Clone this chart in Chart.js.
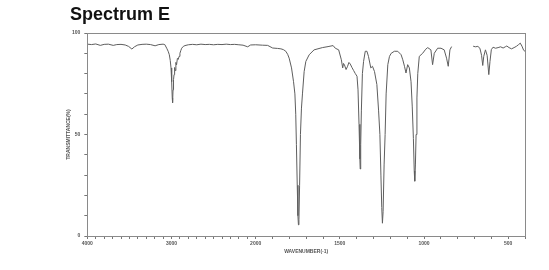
<!DOCTYPE html>
<html>
<head>
<meta charset="utf-8">
<script src="https://cdn.jsdelivr.net/npm/chart.js@4.4.1/dist/chart.umd.min.js"></script>
<style>
  body { margin: 0; background: #fff; }
  #wrap { position: relative; width: 549px; height: 270px; }
  #irChart { position: absolute; left: 0; top: 0; }
  #title { position: absolute; left: 70px; top: 5px; font: bold 18px/18px "Liberation Sans", Arial, sans-serif; color: #111; }
</style>
</head>
<body>
<div id="wrap">
  <canvas id="irChart" width="549" height="270"></canvas>
  <div id="title">Spectrum E</div>
</div>
<script>
/* IR spectrum. x scale changes at 2000 cm-1 (like the SDBS plots) */

const wavenumbers = [
  4000, 3950, 3900, 3846, 3800, 3750, 3692, 3650, 3600, 3550, 3510, 3471, 3440, 3400,
  3350, 3300, 3250, 3195, 3150, 3100, 3080, 3057, 3040, 3026, 3015, 3006, 2998, 2991,
  2987, 2982, 2976, 2970, 2963, 2956, 2948, 2940, 2930, 2920, 2910, 2900, 2890, 2879,
  2860, 2840, 2800, 2750, 2700, 2650, 2600, 2550, 2500, 2450, 2400, 2350, 2300, 2250,
  2200, 2150, 2095, 2060, 2000, 1960, 1929, 1899, 1870, 1850, 1835, 1821, 1810, 1801,
  1787, 1775, 1767, 1762, 1758, 1753, 1749, 1746, 1743, 1739, 1734, 1728, 1722, 1712,
  1702, 1682, 1653, 1604, 1570, 1540, 1527, 1507, 1491, 1483, 1478, 1473, 1463, 1454,
  1446, 1438, 1428, 1418, 1408, 1398, 1392, 1386, 1381, 1379, 1376, 1372, 1366, 1359,
  1349, 1339, 1330, 1316, 1306, 1294, 1280, 1270, 1262, 1256, 1251, 1247, 1243, 1237,
  1231, 1225, 1215, 1205, 1195, 1176, 1156, 1136, 1126, 1116, 1107, 1097, 1087, 1077,
  1070, 1063, 1058, 1055, 1051, 1047, 1042, 1037, 1028, 1008, 990, 978, 959, 949,
  939, 919, 899, 880, 866, 856, 846, 836, 770, 708, 695, 680, 668, 658,
  651, 645, 635, 625, 615, 608, 600, 590, 575, 560, 545, 530, 515, 508,
  495, 480, 465, 450, 438, 428, 418, 408, 400
];

const transmittance = [
  94.5, 94.3, 94.6, 93.9, 94.4, 94.5, 93.9, 94.3, 94.4, 94.1, 93.4, 92.1, 93.2, 94.1,
  94.4, 94.5, 94.3, 93.7, 94.3, 94.5, 94.3, 92.5, 91.0, 89.3, 86.5, 82.8, 76, 68,
  65.7, 72, 77, 79.5, 83, 81.5, 85.5, 84.3, 87.5, 87, 88.5, 90, 91.3, 92.5,
  93.4, 93.8, 94.2, 94.4, 94.2, 94.5, 94.3, 94.4, 94.2, 94.4, 94.3, 94.5, 94.3, 94.4,
  94.2, 94.0, 93.2, 94.1, 94.2, 94.0, 93.9, 92.6, 92.4, 92.2, 91.8, 91.0, 89.5, 87.6,
  82.8, 76, 70, 60, 45, 25, 10, 5.5, 8, 25, 50, 63, 70, 81,
  86, 89.3, 91.7, 92.8, 93.3, 93.8, 92.5, 91.7, 86.8, 82.8, 85, 84.4, 82, 83.6,
  85.5, 84.7, 83, 81.5, 80, 78.7, 72, 55, 38, 33, 45, 62, 80, 86,
  91, 91, 88.5, 82.8, 83.6, 81, 74.6, 62, 50, 30, 14, 6.3, 12, 35,
  50, 70, 84.4, 88.5, 90, 91, 91, 89.3, 86.8, 83.6, 80.3, 84.4, 82.8, 76,
  64, 48, 32, 27, 35, 50, 68, 80, 88.5, 90, 92, 92.8, 91.7, 84.4,
  90, 92.5, 92.5, 91.7, 87.6, 83.6, 91.7, 93.3, null, 93.5, 93.2, 93.4, 92.5, 89,
  84, 88.5, 91.7, 89, 79.5, 86, 91.8, 93, 92.5, 92.8, 93.2, 92.6, 93.3, 93.6,
  92.8, 92.2, 92.8, 93.5, 94.3, 95, 93.5, 91.5, 91
];

const xTickLabels = [4000, 3000, 2000, 1500, 1000, 500];
const yTickLabels = [0, 50, 100];

// 4000-2000 at one step, 2000-400 at double scale
function axisPos(wn) {
  return wn >= 2000 ? (4000 - wn) / 1000 : 2 + (2000 - wn) / 500;
}
function axisWn(p) {
  return p <= 2 ? 4000 - p * 1000 : 2000 - (p - 2) * 500;
}

const frame = {
  id: 'frame',
  afterDraw(chart) {
    const a = chart.chartArea;
    const ctx = chart.ctx;
    ctx.save();
    ctx.strokeStyle = '#8a8a8a';
    ctx.lineWidth = 1;
    ctx.strokeRect(Math.round(a.left) + 0.5, Math.round(a.top) + 0.5,
                   Math.round(a.right - a.left), Math.round(a.bottom - a.top));
    ctx.restore();
  }
};

Chart.defaults.font.family = '"Liberation Sans", Arial, sans-serif';

new Chart(document.getElementById('irChart'), {
  type: 'line',
  data: {
    datasets: [{
      data: wavenumbers.map((wn, i) => ({ x: axisPos(wn), y: transmittance[i] })),
      borderColor: '#5e5e5e',
      borderWidth: 1,
      pointRadius: 0,
      tension: 0,
      spanGaps: false,
      fill: false
    }]
  },
  options: {
    responsive: false,
    animation: false,
    layout: { padding: { left: 66, right: 24, top: 33, bottom: 15 } },
    plugins: { legend: { display: false }, tooltip: { enabled: false } },
    scales: {
      x: {
        type: 'linear',
        min: 0,
        max: axisPos(400),
        afterBuildTicks(scale) {
          const t = [];
          for (let wn = 4000; wn >= 400; wn -= 100) t.push({ value: axisPos(wn) });
          scale.ticks = t;
        },
        ticks: {
          autoSkip: false,
          maxRotation: 0,
          padding: 2,
          font: { size: 5, weight: 'bold' },
          color: '#555',
          callback(value) {
            const wn = Math.round(axisWn(value));
            return xTickLabels.includes(wn) ? String(wn) : '';
          }
        },
        grid: { drawOnChartArea: false, tickLength: 3, tickColor: '#777' },
        border: { color: '#8a8a8a' },
        title: { display: true, text: 'WAVENUMBER(-1)', font: { size: 5, weight: 'bold' }, color: '#555', padding: 0 }
      },
      y: {
        min: 0,
        max: 100,
        ticks: {
          stepSize: 10,
          padding: 4,
          font: { size: 5, weight: 'bold' },
          color: '#555',
          callback(value) {
            return yTickLabels.includes(value) ? String(value) : '';
          }
        },
        grid: { drawOnChartArea: false, tickLength: 3, tickColor: '#777' },
        border: { color: '#8a8a8a' },
        title: { display: true, text: 'TRANSMITTANCE(%)', font: { size: 5, weight: 'bold' }, color: '#555', padding: { top: 0, bottom: -4 } }
      }
    }
  },
  plugins: [frame]
});
</script>
</body>
</html>
